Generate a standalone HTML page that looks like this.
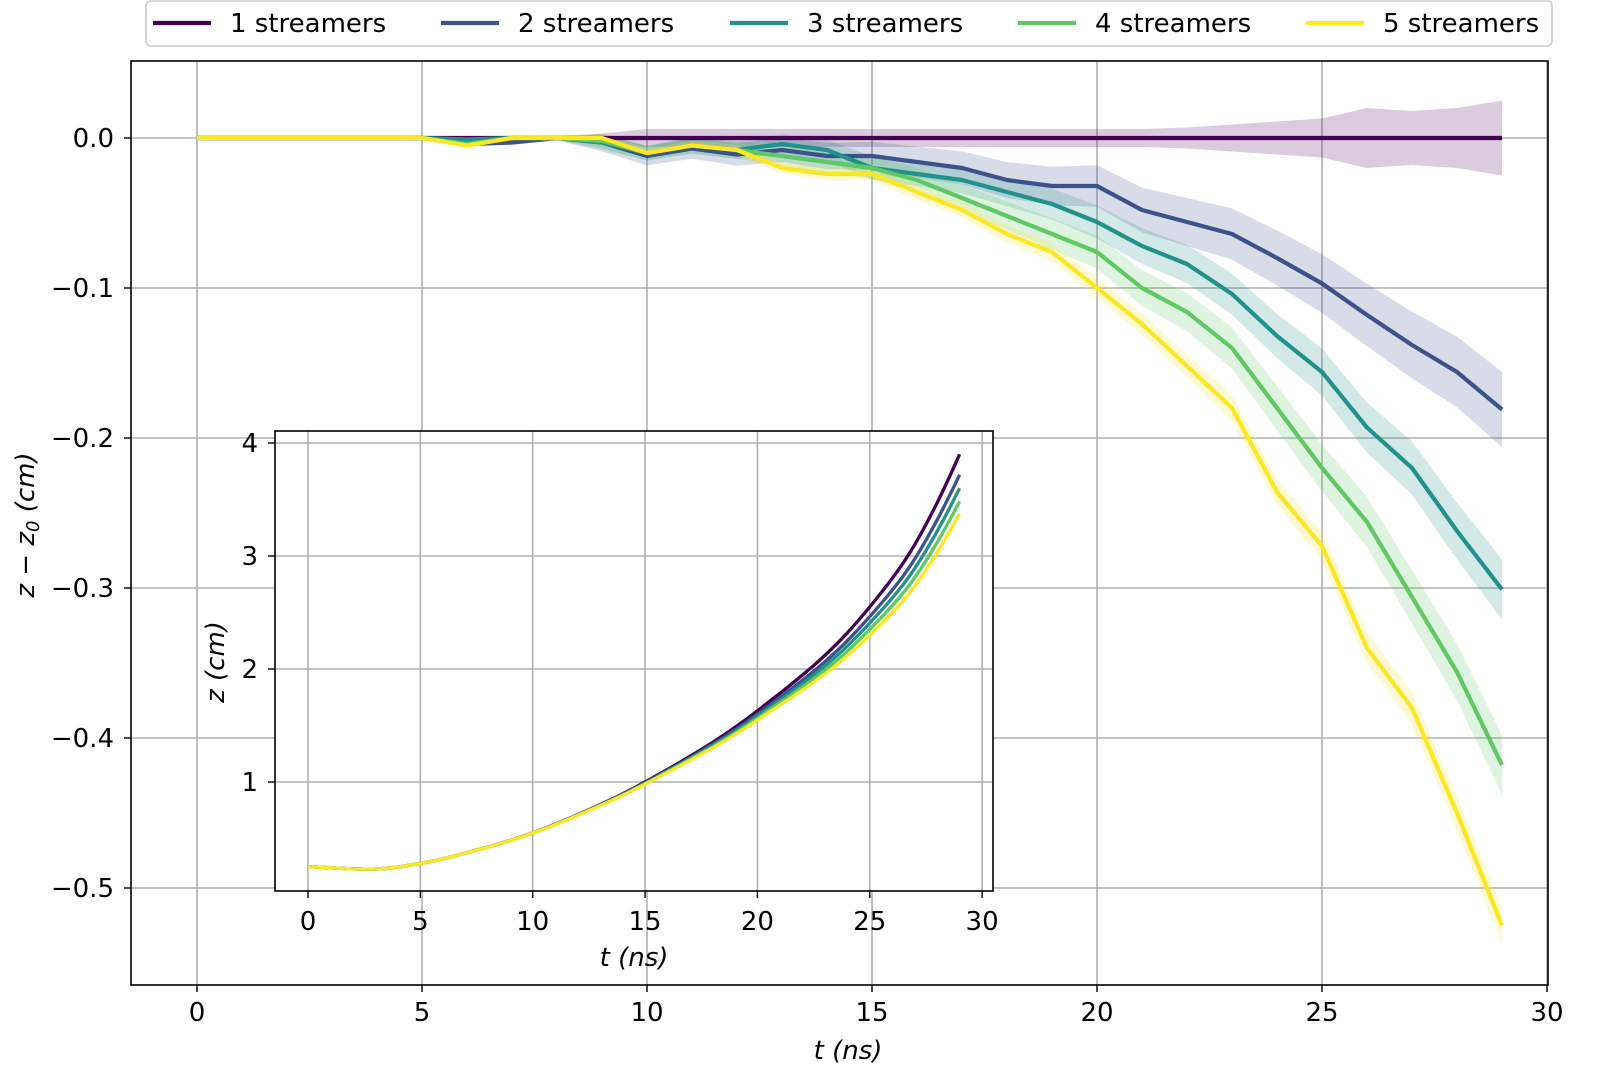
<!DOCTYPE html>
<html><head><meta charset="utf-8"><style>
body{margin:0;background:#fff;width:1600px;height:1085px;overflow:hidden}
svg text{font-family:"DejaVu Sans","Liberation Sans",sans-serif;fill:#000}
</style></head><body>
<svg id="s" width="1600" height="1085" xmlns="http://www.w3.org/2000/svg"></svg>
<script>
const S=document.getElementById('s');let h='';
const FS=26;
const cols=['#440154','#3b528b','#21918c','#5ec962','#fde725'];
const d=[
 Array(30).fill(0),
 [0,0,0,0,0,0,-0.004,-0.003,0,-0.003,-0.012,-0.007,-0.011,-0.008,-0.012,-0.012,-0.016,-0.02,-0.028,-0.032,-0.032,-0.048,-0.056,-0.064,-0.08,-0.097,-0.118,-0.138,-0.156,-0.181],
 [0,0,0,0,0,0,-0.001,0,0,-0.003,-0.01,-0.005,-0.008,-0.004,-0.008,-0.02,-0.024,-0.028,-0.036,-0.044,-0.056,-0.072,-0.084,-0.104,-0.132,-0.156,-0.193,-0.22,-0.262,-0.301],
 [0,0,0,0,0,0,-0.004,0,0,-0.002,-0.01,-0.005,-0.008,-0.012,-0.016,-0.02,-0.028,-0.04,-0.052,-0.064,-0.076,-0.1,-0.116,-0.14,-0.18,-0.22,-0.256,-0.306,-0.356,-0.418],
 [0,0,0,0,0,0,-0.005,0,0,0,-0.01,-0.005,-0.008,-0.02,-0.024,-0.024,-0.036,-0.048,-0.064,-0.076,-0.1,-0.124,-0.152,-0.18,-0.236,-0.272,-0.34,-0.38,-0.45,-0.525]];
const bw=[0.025,0.025,0.02,0.02,0.012];
const pw=[0,0,0,0,0,0,0,0,0,0.003,0.006,0.006,0.006,0.006,0.006,0.006,0.006,0.006,0.006,0.006,0.006,0.006,0.007,0.009,0.011,0.013,0.02,0.018,0.02,0.025];
const X=t=>197+45*t, Y=v=>138-1500*v;
for(let t=0;t<=30;t+=5)h+=`<line x1="${X(t)}" y1="61" x2="${X(t)}" y2="985" stroke="#b0b0b0" stroke-width="1.6"/>`;
for(let i=0;i<=5;i++)h+=`<line x1="131" y1="${Y(-i/10)}" x2="1548" y2="${Y(-i/10)}" stroke="#b0b0b0" stroke-width="1.6"/>`;
for(let k=0;k<5;k++){let up=[],lo=[];for(let t=0;t<30;t++){let w=t<6?0:(k==0?pw[t]:bw[k]*(0.15+0.85*Math.pow(t/29,2))*(t<9?0.3:1));up.push(X(t)+','+Y(d[k][t]+w));lo.unshift(X(t)+','+Y(d[k][t]-w));}
h+=`<polygon points="${up.concat(lo).join(' ')}" fill="${cols[k]}" fill-opacity="0.2"/>`;}
for(let k=0;k<5;k++)h+=`<polyline points="${d[k].map((v,t)=>X(t)+','+Y(v)).join(' ')}" fill="none" stroke="${cols[k]}" stroke-width="4.2" stroke-linejoin="round"/>`;
h+=`<rect x="131" y="61" width="1417" height="924" fill="none" stroke="#000" stroke-width="1.6"/>`;
for(let t=0;t<=30;t+=5)h+=`<line x1="${X(t)}" y1="985" x2="${X(t)}" y2="992" stroke="#000" stroke-width="1.4"/><text x="${X(t)}" y="1021" font-size="${FS}" text-anchor="middle">${t}</text>`;
['0.0','−0.1','−0.2','−0.3','−0.4','−0.5'].forEach((s,i)=>{h+=`<line x1="124" y1="${Y(-i/10)}" x2="131" y2="${Y(-i/10)}" stroke="#000" stroke-width="1.4"/><text x="114" y="${Y(-i/10)+9}" font-size="${FS}" text-anchor="end">${s}</text>`;});
h+=`<text x="848" y="1059" font-size="${FS}" text-anchor="middle" font-style="italic">t (ns)</text>`;
h+=`<text transform="translate(34,525) rotate(-90)" font-size="${FS}" text-anchor="middle" font-style="italic">z − z<tspan font-size="18" dy="5">0</tspan><tspan dy="-5"> (cm)</tspan></text>`;
h+=`<rect x="275" y="431" width="718" height="460" fill="#fff"/>`;
const IX=t=>308+22.47*t, IY=v=>782-113*(v-1);
for(let t=0;t<=30;t+=5)h+=`<line x1="${IX(t)}" y1="431" x2="${IX(t)}" y2="891" stroke="#b0b0b0" stroke-width="1.6"/>`;
for(let v=1;v<=4;v++)h+=`<line x1="275" y1="${IY(v)}" x2="993" y2="${IY(v)}" stroke="#b0b0b0" stroke-width="1.6"/>`;
const zt=[-2,0,3,5,7,10,13,15,18,20,23,25,27,29,31],zv=[0.26,0.25,0.23,0.28,0.37,0.55,0.8,1.0,1.35,1.63,2.12,2.55,3.1,3.9,4.9];
function z1(t){for(let i=1;i<zt.length-2;i++)if(t<=zt[i+1]){let u=(t-zt[i])/(zt[i+1]-zt[i]);let p0=zv[i-1],p1=zv[i],p2=zv[i+1],p3=zv[i+2];
let m1=(p2-p0)/(zt[i+1]-zt[i-1])*(zt[i+1]-zt[i]),m2=(p3-p1)/(zt[i+2]-zt[i])*(zt[i+1]-zt[i]);
let u2=u*u,u3=u2*u;return (2*u3-3*u2+1)*p1+(u3-2*u2+u)*m1+(-2*u3+3*u2)*p2+(u3-u2)*m2;}return 3.9;}
for(let k=0;k<5;k++){let p=[];for(let t=0;t<=29.001;t+=0.25)p.push(IX(t).toFixed(1)+','+IY(z1(t)+d[k][29]*Math.pow(t/29,5)).toFixed(1));h+=`<polyline points="${p.join(' ')}" fill="none" stroke="${cols[k]}" stroke-width="3.3" stroke-linejoin="round"/>`;}
h+=`<rect x="275" y="431" width="718" height="460" fill="none" stroke="#000" stroke-width="1.6"/>`;
for(let t=0;t<=30;t+=5)h+=`<line x1="${IX(t)}" y1="891" x2="${IX(t)}" y2="898" stroke="#000" stroke-width="1.4"/><text x="${IX(t)}" y="930" font-size="${FS}" text-anchor="middle">${t}</text>`;
for(let v=1;v<=4;v++)h+=`<line x1="268" y1="${IY(v)}" x2="275" y2="${IY(v)}" stroke="#000" stroke-width="1.4"/><text x="258" y="${IY(v)+9}" font-size="${FS}" text-anchor="end">${v}</text>`;
h+=`<text x="634" y="966" font-size="${FS}" text-anchor="middle" font-style="italic">t (ns)</text>`;
h+=`<text transform="translate(224,662) rotate(-90)" font-size="${FS}" text-anchor="middle" font-style="italic">z (cm)</text>`;
h+=`<rect x="146" y="1" width="1406" height="45" rx="5" fill="#fff" stroke="#ccc" stroke-width="1.6"/>`;
const lx=[153,441,730,1018,1306];
for(let k=0;k<5;k++)h+=`<line x1="${lx[k]}" y1="23" x2="${lx[k]+58}" y2="23" stroke="${cols[k]}" stroke-width="4.2"/><text x="${lx[k]+77}" y="32" font-size="${FS}">${k+1} streamers</text>`;
S.innerHTML=h;
</script>
</body></html>
